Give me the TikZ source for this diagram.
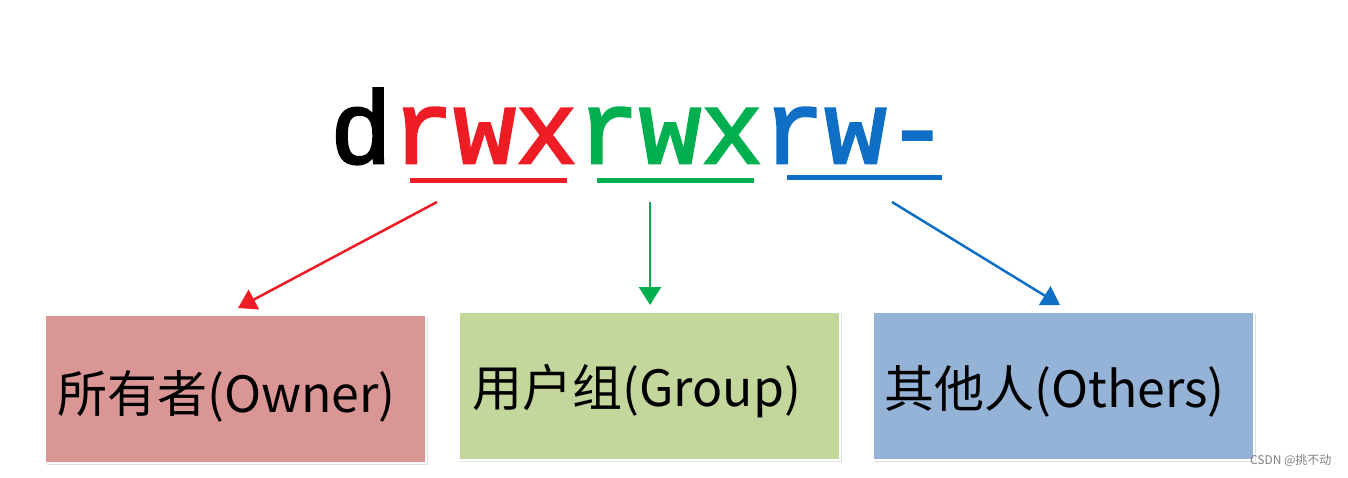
\documentclass[tikz,border=0pt]{standalone}
\usepackage{fontspec}
\setmainfont{Noto Sans CJK SC}
\newfontfamily\monob{Liberation Mono}[FakeBold=2.5]
\usetikzlibrary{arrows.meta,shadows}
\definecolor{cred}{HTML}{EE1C25}
\definecolor{cgreen}{HTML}{00B050}
\definecolor{cblue}{HTML}{0F6FC6}
\definecolor{fred}{HTML}{D99694}
\definecolor{fgreen}{HTML}{C3D69B}
\definecolor{fblue}{HTML}{95B3D7}
\begin{document}
\begin{tikzpicture}[x=1pt,y=-1pt,
  box/.style={draw=white,line width=2pt,minimum width=381pt,minimum height=148pt,
    font=\fontsize{50}{54}\selectfont,inner sep=0pt,
    drop shadow={shadow xshift=2pt,shadow yshift=-2pt,opacity=0.25}},
  uline/.style={line width=5pt},
  arr/.style={line width=2.5pt,-{Triangle[length=18pt,width=22pt]}}]
\useasboundingbox (0,0) rectangle (1348,478);
\node[anchor=base west,inner sep=0pt] (perm) at (330,163)
  {\monob\fontsize{103}{110}\selectfont d\textcolor{cred}{rwx}\textcolor{cgreen}{rwx}\textcolor{cblue}{rw-}};
\coordinate (r1) at (410,181); \coordinate (r2) at (567,181);
\coordinate (g1) at (597,181); \coordinate (g2) at (754,181);
\coordinate (b1) at (787,178); \coordinate (b2) at (942,178);
\draw[uline,cred] (r1) -- (r2);
\draw[uline,cgreen] (g1) -- (g2);
\draw[uline,cblue] (b1) -- (b2);
\node[box,fill=fred] (own) at (235.5,388.5) {};
\node[box,fill=fgreen] (grp) at (649,385.5) {};
\node[box,fill=fblue] (oth) at (1063.5,385.5) {};
\node[anchor=west,inner sep=0pt,font=\fontsize{50}{54}\selectfont] (ownt) at (57,396) {所有者(Owner)};
\node[anchor=west,inner sep=0pt,font=\fontsize{50}{54}\selectfont] (grpt) at (472,391) {用户组(Group)};
\node[anchor=west,inner sep=0pt,font=\fontsize{50}{54}\selectfont] (otht) at (884,391) {其他人(Others)};
\coordinate (ra) at (437,202); \coordinate (ga) at (650,202); \coordinate (ba) at (892,202);
\draw[arr,cred] (ra) -- (238,308);
\draw[arr,cgreen] (ga) -- (650,305);
\draw[arr,cblue] (ba) -- (1060,305);
\node[anchor=east,text=gray,font=\fontsize{12}{14}\selectfont] (wm) at (1335,461) {CSDN @挑不动};
\end{tikzpicture}
\end{document}
